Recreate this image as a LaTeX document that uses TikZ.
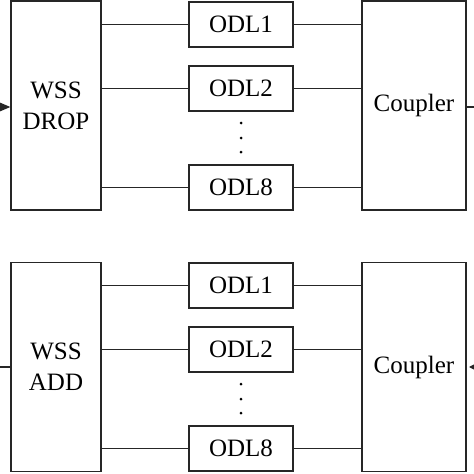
\documentclass[tikz,border=0pt]{standalone}
\usepackage{fontspec}
\setmainfont{Liberation Serif}
\usetikzlibrary{arrows.meta}
\begin{document}
\begin{tikzpicture}[x=1pt,y=-1pt,
  blk/.style={draw=black!85,line width=1.3pt,fill=white,inner sep=0pt,align=center,
    text=black,font=\fontsize{25}{31}\selectfont},
  wssbox/.style={blk,minimum width=90pt,minimum height=209pt},
  cplbox/.style={blk,minimum width=104pt,minimum height=209pt},
  odlbox/.style={blk,minimum width=104pt,minimum height=45pt},
  wire/.style={draw=black!85,line width=1.3pt},
  dotmark/.style={circle,fill=black,inner sep=0pt,minimum size=3pt}]
\useasboundingbox (0,0) rectangle (474,474);
% top half
\node[wssbox] (wssd) at (56,105.5) {WSS\\DROP};
\node[cplbox] (cplt) at (414,105.5) {Coupler};
\node[odlbox] (t1) at (241,24.5) {ODL1};
\node[odlbox] (t2) at (241,88.5) {ODL2};
\node[odlbox] (t8) at (241,187.5) {ODL8};
\node[dotmark] (td1) at (241,123) {};
\node[dotmark] (td2) at (241,138) {};
\node[dotmark] (td3) at (241,152) {};
\foreach \n in {t1,t2,t8}{
  \draw[wire] (wssd.east |- \n.west) -- (\n.west);
  \draw[wire] (\n.east) -- (cplt.west |- \n.east);
}
\coordinate (inL) at (-10,107);
\coordinate (outR) at (480,107);
\draw[wire,-{Triangle[length=11pt,width=9pt]}] (inL) -- (wssd.west |- inL);
\draw[wire] (cplt.east |- outR) -- (outR);
% bottom half
\node[wssbox] (wssa) at (56,367) {WSS\\ADD};
\node[cplbox] (cplb) at (414,367) {Coupler};
\node[odlbox] (b1) at (241,285.5) {ODL1};
\node[odlbox] (b2) at (241,349.5) {ODL2};
\node[odlbox] (b8) at (241,448.5) {ODL8};
\node[dotmark] (bd1) at (241,384) {};
\node[dotmark] (bd2) at (241,399) {};
\node[dotmark] (bd3) at (241,413) {};
\foreach \n in {b1,b2,b8}{
  \draw[wire] (wssa.east |- \n.west) -- (\n.west);
  \draw[wire] (\n.east) -- (cplb.west |- \n.east);
}
\coordinate (outL) at (-10,367);
\coordinate (inR) at (482,367);
\coordinate (tipR) at (469,367);
\draw[wire] (outL) -- (wssa.west |- outL);
\draw[wire,-{Triangle[length=7pt,width=7pt]}] (inR) -- (tipR);
\end{tikzpicture}
\end{document}
